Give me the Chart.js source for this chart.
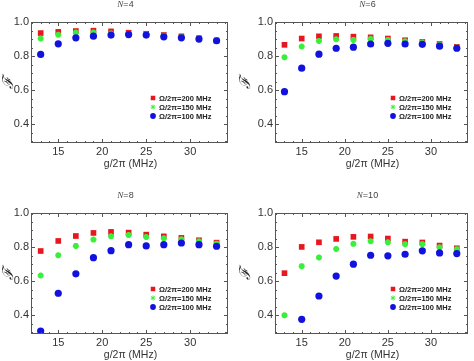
<!DOCTYPE html>
<html>
<head>
<meta charset="utf-8">
<script src="https://cdn.jsdelivr.net/npm/chart.js@4.4.0/dist/chart.umd.min.js"></script>
<style>
  body { margin: 0; background: #fff; width: 474px; height: 361px; position: relative; overflow: hidden; }
  .panel { position: absolute; }
</style>
</head>
<body>
<div class="panel" style="left:0;top:0"><canvas id="c1" width="237" height="180"></canvas></div>
<div class="panel" style="left:237px;top:0"><canvas id="c2" width="237" height="180"></canvas></div>
<div class="panel" style="left:0;top:180px"><canvas id="c3" width="237" height="181"></canvas></div>
<div class="panel" style="left:237px;top:180px"><canvas id="c4" width="237" height="181"></canvas></div>
<script>
// Data
const gValues = [13, 15, 17, 19, 21, 23, 25, 27, 29, 31, 33];
const omegaLabels = ['Ω/2π=200 MHz', 'Ω/2π=150 MHz', 'Ω/2π=100 MHz'];
const panelN = ['4', '6', '8', '10'];
const xTickValues = [15, 20, 25, 30];
const yTickValues = [0.4, 0.6, 0.8, 1.0];

const fidN4_200 = [0.935, 0.942, 0.947, 0.949, 0.945, 0.937, 0.931, 0.924, 0.916, 0.905, 0.892];
const fidN4_150 = [0.903, 0.925, 0.938, 0.938, 0.932, 0.930, 0.928, 0.920, 0.911, 0.902, 0.890];
const fidN4_100 = [0.810, 0.872, 0.907, 0.917, 0.923, 0.926, 0.923, 0.913, 0.907, 0.900, 0.890];

const fidN6_200 = [0.866, 0.903, 0.916, 0.918, 0.914, 0.910, 0.903, 0.893, 0.883, 0.871, 0.854];
const fidN6_150 = [0.793, 0.856, 0.889, 0.899, 0.895, 0.901, 0.895, 0.887, 0.879, 0.867, 0.850];
const fidN6_100 = [0.591, 0.729, 0.811, 0.846, 0.852, 0.871, 0.875, 0.871, 0.869, 0.858, 0.846];

const fidN8_200 = [0.777, 0.836, 0.865, 0.883, 0.889, 0.885, 0.873, 0.863, 0.854, 0.840, 0.826];
const fidN8_150 = [0.633, 0.752, 0.807, 0.844, 0.863, 0.871, 0.859, 0.852, 0.846, 0.834, 0.820];
const fidN8_100 = [0.307, 0.529, 0.643, 0.738, 0.779, 0.814, 0.807, 0.814, 0.824, 0.814, 0.805];

const fidN10_200 = [0.647, 0.801, 0.828, 0.848, 0.860, 0.862, 0.850, 0.832, 0.827, 0.809, 0.793];
const fidN10_150 = [0.400, 0.688, 0.739, 0.789, 0.819, 0.834, 0.828, 0.817, 0.817, 0.799, 0.788];
const fidN10_100 = [null, 0.376, 0.513, 0.630, 0.700, 0.752, 0.749, 0.758, 0.778, 0.766, 0.762];

const seriesColors = ['rgb(232,22,30)', 'rgb(60,238,60)', 'rgb(18,18,222)'];
const seriesStyles = ['rect', 'star', 'circle'];
const seriesRadius = [4, 3, 3.6];

// Frame, inward ticks, titles and inset legend (Mathematica look)
const framePlugin = {
    id: 'frame',
    afterDraw(chart, args, opts) {
        const ctx = chart.ctx;
        const a = chart.chartArea;
        const xs = chart.scales.x, ys = chart.scales.y;
        ctx.save();
        ctx.strokeStyle = '#555';
        ctx.lineWidth = 1;
        ctx.strokeRect(Math.round(a.left) + 0.5, Math.round(a.top) + 0.5,
                       Math.round(a.right - a.left) - 1, Math.round(a.bottom - a.top) - 1);
        ctx.beginPath();
        for (let v = 12; v <= 34; v++) {
            const x = Math.round(xs.getPixelForValue(v)) + 0.5;
            const len = v % 5 === 0 ? 4 : 2;
            ctx.moveTo(x, a.bottom); ctx.lineTo(x, a.bottom - len);
            ctx.moveTo(x, a.top); ctx.lineTo(x, a.top + len);
        }
        for (let k = 6; k <= 20; k++) {
            const v = k * 0.05;
            const y = Math.round(ys.getPixelForValue(v)) + 0.5;
            const len = k % 4 === 0 ? 4 : 2;
            ctx.moveTo(a.left, y); ctx.lineTo(a.left + len, y);
            ctx.moveTo(a.right, y); ctx.lineTo(a.right - len, y);
        }
        ctx.stroke();

        const cx = (a.left + a.right) / 2;
        // panel title "N=.."
        ctx.fillStyle = '#444';
        ctx.textBaseline = 'middle';
        ctx.font = 'italic 9px "Liberation Serif"';
        const wN = ctx.measureText('N').width;
        ctx.font = '9px "Liberation Sans"';
        const rest = '=' + opts.n;
        const wR = ctx.measureText(rest).width;
        const tx = cx - 4 - (wN + wR) / 2, ty = a.top - 17;
        ctx.font = 'italic 9px "Liberation Serif"';
        ctx.textAlign = 'left';
        ctx.fillText('N', tx, ty);
        ctx.font = '9px "Liberation Sans"';
        ctx.fillText(rest, tx + wN, ty);

        // x axis title
        ctx.fillStyle = '#333';
        ctx.font = '10.5px "Liberation Sans"';
        ctx.textAlign = 'center';
        ctx.fillText('g/2π (MHz)', cx + 1, a.bottom + 21);

        // y axis title
        ctx.save();
        ctx.translate(9, (a.top + a.bottom) / 2);
        ctx.rotate(-Math.PI / 2);
        ctx.font = 'italic 15px "DejaVu Serif"';
        ctx.fillStyle = '#222';
        ctx.fillText('ℱ', 0, 0);
        ctx.restore();

        // legend inside the plot
        ctx.font = 'bold 7.5px "Liberation Sans"';
        ctx.textAlign = 'left';
        chart.data.datasets.forEach((ds, i) => {
            const y = a.bottom - 45 + i * 9;
            const mx = a.right - 75;
            ctx.fillStyle = ds.backgroundColor;
            ctx.strokeStyle = ds.borderColor;
            Chart.helpers.drawPoint(ctx, {
                pointStyle: ds.pointStyle,
                radius: ds.pointRadius * 0.8,
                borderWidth: ds.borderWidth,
                rotation: 0
            }, mx, y);
            ctx.fillStyle = '#222';
            ctx.fillText(ds.label, mx + 6, y + 0.5);
        });
        ctx.restore();
    }
};

function makePanel(id, n, series, left, right, top, bottom, height) {
    const datasets = series.map((vals, i) => ({
        label: omegaLabels[i],
        data: gValues.map((g, j) => ({ x: g, y: vals[j] })),
        pointStyle: seriesStyles[i],
        pointRadius: seriesRadius[i],
        backgroundColor: seriesColors[i],
        borderColor: seriesColors[i],
        borderWidth: i === 1 ? 2 : 0,
        showLine: false,
        // blue circles sit on top, as in the figure
        order: series.length - 1 - i
    }));
    new Chart(document.getElementById(id), {
        type: 'scatter',
        data: { datasets: datasets },
        options: {
            responsive: false,
            animation: false,
            layout: { padding: { left: 0, right: 237 - right, top: top, bottom: 0 } },
            plugins: { legend: { display: false }, tooltip: { enabled: false }, frame: { n: n } },
            scales: {
                x: {
                    type: 'linear', min: 11.9, max: 34.3,
                    afterFit: s => { s.height = height - bottom; },
                    afterBuildTicks: s => { s.ticks = xTickValues.map(v => ({ value: v })); },
                    grid: { display: false, drawTicks: false },
                    border: { display: false },
                    ticks: { padding: 2, color: '#333', font: { family: 'Liberation Sans', size: 11 } }
                },
                y: {
                    type: 'linear', min: 0.29, max: 1.0,
                    afterFit: s => { s.width = left; },
                    afterBuildTicks: s => { s.ticks = yTickValues.map(v => ({ value: v })); },
                    grid: { display: false, drawTicks: false },
                    border: { display: false },
                    ticks: { padding: 2, color: '#333', font: { family: 'Liberation Sans', size: 11 },
                             callback: v => v.toFixed(1) }
                }
            }
        },
        plugins: [framePlugin]
    });
}

makePanel('c1', panelN[0], [fidN4_200, fidN4_150, fidN4_100], 31, 228, 22, 143, 180);
makePanel('c2', panelN[1], [fidN6_200, fidN6_150, fidN6_100], 38, 235, 22, 143, 180);
makePanel('c3', panelN[2], [fidN8_200, fidN8_150, fidN8_100], 31, 228, 33, 154, 181);
makePanel('c4', panelN[3], [fidN10_200, fidN10_150, fidN10_100], 38, 235, 33, 154, 181);
</script>
</body>
</html>
